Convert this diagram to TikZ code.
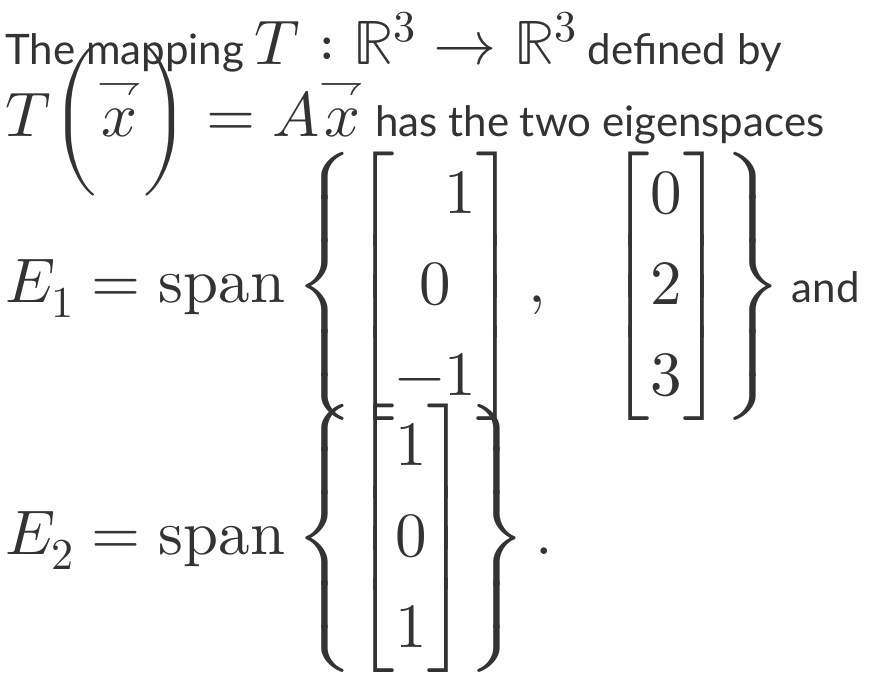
\documentclass[tikz,border=0pt]{standalone}
\usepackage{amsmath}
\usepackage{unicode-math}
\setmainfont{Lato}
\setmathfont{Latin Modern Math}[Scale=1.5]
\definecolor{ink}{HTML}{333333}
\newcommand{\hv}[1]{\overset{\rightharpoondown}{#1}}
\begin{document}
\begin{tikzpicture}[x=1pt,y=-1pt,txt/.style={anchor=base west,inner sep=0pt,text=ink,font=\fontsize{42}{52}\selectfont}]
\useasboundingbox (0,0) rectangle (887,686);
\node[txt] (l1) at (5,64) {The mapping $T:\mathbb{R}^3\to\mathbb{R}^3$ defined by};
\node[txt] (l2) at (5,136) {$T\biggl(\hv{x}\biggr)=A\hv{x}$ has the two eigenspaces};
\node[txt] (l3) at (5,302) {$E_1=\symup{span}\left\{\renewcommand{\arraystretch}{1.75}\begin{bmatrix}\phantom{-}1\\0\\-1\end{bmatrix},\;\;\;\begin{bmatrix}0\\2\\3\end{bmatrix}\right\}$ and};
\node[txt] (l4) at (5,554) {$E_2=\symup{span}\left\{\renewcommand{\arraystretch}{1.75}\begin{bmatrix}1\\0\\1\end{bmatrix}\right\}.$};
\end{tikzpicture}
\end{document}
